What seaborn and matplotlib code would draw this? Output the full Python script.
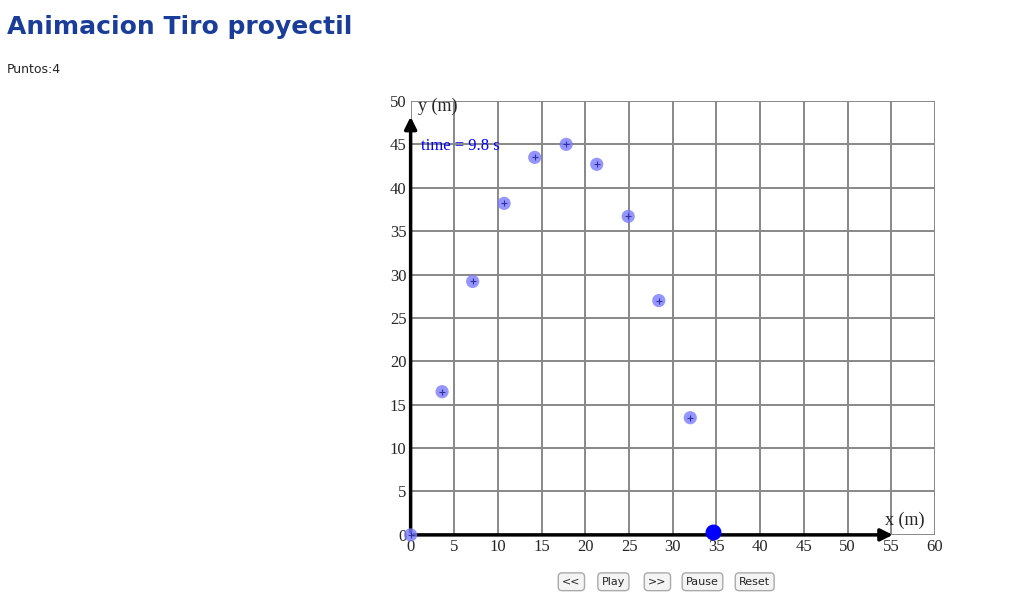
import matplotlib
matplotlib.use("Agg")
import matplotlib.pyplot as plt
import seaborn as sns
import pandas as pd

# trajectory samples
x_vals = [0, 3.6, 7.1, 10.7, 14.2, 17.8, 21.3, 24.9, 28.4, 32.0]
y_vals = [0, 16.5, 29.2, 38.2, 43.5, 45.0, 42.7, 36.7, 27.0, 13.5]
ball = (34.6, 0.3)
buttons = ['<<', 'Play', '>>', 'Pause', 'Reset']

sns.set_style("white")
fig = plt.figure(figsize=(10.24, 6.01), dpi=100)
ax = fig.add_axes([0.401, 0.110, 0.512, 0.722])

df = pd.DataFrame({'x': x_vals, 'y': y_vals})
sns.scatterplot(data=df, x='x', y='y', ax=ax, s=90, color='#7b7bff', alpha=0.8,
                edgecolor='none', zorder=4, clip_on=False)
ax.scatter(x_vals, y_vals, marker='+', s=25, color='#3030a0', linewidths=0.8,
           zorder=5, clip_on=False)
ax.scatter([ball[0]], [ball[1]], s=110, color='#0000ff', zorder=6, clip_on=False)

ax.set_xlim(0, 60)
ax.set_ylim(0, 50)
ax.set_xticks(range(0, 61, 5))
ax.set_yticks(range(0, 51, 5))
ax.grid(True, color='#888888', linewidth=1.4)
for s in ax.spines.values():
    s.set_visible(False)
ax.set_xlabel('')
ax.set_ylabel('')
ax.tick_params(length=0, labelsize=12, pad=3)
for lab in ax.get_xticklabels() + ax.get_yticklabels():
    lab.set_fontfamily('Liberation Serif')
ax.annotate('', xy=(55.5, 0), xytext=(0, 0),
            arrowprops=dict(arrowstyle='-|>', color='black', lw=2.5, mutation_scale=18),
            annotation_clip=False, zorder=3)
ax.annotate('', xy=(0, 48.5), xytext=(0, 0),
            arrowprops=dict(arrowstyle='-|>', color='black', lw=2.5, mutation_scale=18),
            annotation_clip=False, zorder=3)
ax.text(54.3, 1.2, 'x (m)', fontsize=13, family='Liberation Serif')
ax.text(0.8, 48.8, 'y (m)', fontsize=13, family='Liberation Serif')
ax.text(1.2, 44.3, 'time = 9.8 s', fontsize=12, family='Liberation Serif', color='blue')

fig.text(0.007, 0.955, 'Animacion Tiro proyectil', fontsize=18, fontweight='bold',
         color='#1a3d99', va='center')
fig.text(0.007, 0.885, 'Puntos:4', fontsize=9, va='center')

bx = [0.558, 0.599, 0.642, 0.686, 0.737]
for b, xpos in zip(buttons, bx):
    fig.text(xpos, 0.032, b, fontsize=8, ha='center', va='center',
             bbox=dict(boxstyle='round,pad=0.35', fc='#f4f4f4', ec='#aaaaaa'))

fig.savefig('out.png', dpi=100)
